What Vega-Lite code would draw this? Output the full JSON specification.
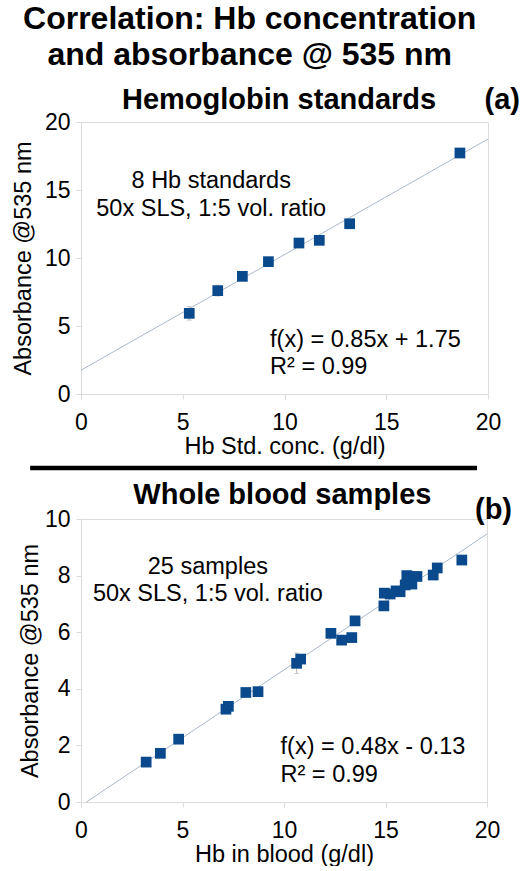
{
  "$schema": "https://vega.github.io/schema/vega-lite/v6.json",
  "background": "white",
  "padding": {"left": 10, "top": 2, "right": 0, "bottom": 0},
  "title": {
    "text": ["Correlation: Hb concentration", "and absorbance @ 535 nm"],
    "fontSize": 32,
    "fontWeight": "bold",
    "lineHeight": 36,
    "anchor": "middle",
    "dx": -16,
    "offset": 14
  },
  "spacing": 9,
  "vconcat": [
    {
      "width": 407,
      "height": 272,
      "title": {
        "text": "Hemoglobin standards\u00a0\u00a0\u00a0\u00a0\u00a0\u00a0(a)",
        "fontSize": 29,
        "fontWeight": "bold",
        "baseline": "alphabetic",
        "anchor": "end",
        "frame": "group",
        "dx": 32,
        "offset": -27
      },
      "data": {
        "values": [
          {"hb": 5.32, "abs": 5.93, "err": 0.5},
          {"hb": 6.72, "abs": 7.6, "err": 0.4},
          {"hb": 7.93, "abs": 8.65, "err": 0.3},
          {"hb": 9.21, "abs": 9.73, "err": 0.25},
          {"hb": 10.71, "abs": 11.1, "err": 0.3},
          {"hb": 11.71, "abs": 11.3, "err": 0.3},
          {"hb": 13.2, "abs": 12.52, "err": 0.25},
          {"hb": 18.62, "abs": 17.72, "err": 0.2}
        ]
      },
      "layer": [
        {
          "data": {"values": [{"hb": 0, "abs": 1.75}, {"hb": 20, "abs": 18.75}]},
          "mark": {"type": "line", "color": "#a9b8cc", "strokeWidth": 1},
          "encoding": {
            "x": {
              "field": "hb",
              "type": "quantitative",
              "title": "Hb Std. conc. (g/dl)",
              "scale": {"domain": [0, 20], "nice": false},
              "axis": {"values": [0, 5, 10, 15, 20], "titlePadding": 0}
            },
            "y": {
              "field": "abs",
              "type": "quantitative",
              "title": "Absorbance @535 nm",
              "scale": {"domain": [0, 20], "nice": false},
              "axis": {"values": [0, 5, 10, 15, 20]}
            }
          }
        },
        {
          "mark": {"type": "errorbar", "ticks": true, "color": "#b8b8b8"},
          "encoding": {
            "x": {"field": "hb", "type": "quantitative", "title": "Hb Std. conc. (g/dl)"},
            "y": {"field": "abs", "type": "quantitative", "title": "Absorbance @535 nm"},
            "yError": {"field": "err"}
          }
        },
        {
          "mark": {"type": "square", "filled": true, "size": 115, "color": "#0a4a8c", "opacity": 1},
          "encoding": {
            "x": {"field": "hb", "type": "quantitative", "title": "Hb Std. conc. (g/dl)"},
            "y": {"field": "abs", "type": "quantitative", "title": "Absorbance @535 nm"}
          }
        },
        {
          "data": {"values": [{}]},
          "mark": {"type": "text", "text": ["8 Hb standards", "50x SLS, 1:5 vol. ratio"], "align": "center", "baseline": "alphabetic", "fontSize": 23.5, "lineHeight": 28, "color": "black"},
          "encoding": {"x": {"datum": 6.4}, "y": {"datum": 15.15}}
        },
        {
          "data": {"values": [{}]},
          "mark": {"type": "text", "text": ["f(x) = 0.85x + 1.75", "R² = 0.99"], "align": "left", "baseline": "alphabetic", "fontSize": 23.5, "lineHeight": 27, "color": "black"},
          "encoding": {"x": {"datum": 9.29}, "y": {"datum": 3.46}}
        },
        {
          "data": {"values": [{}]},
          "mark": {"type": "rule", "color": "black", "strokeWidth": 4.5},
          "encoding": {
            "x": {"datum": -2.5},
            "x2": {"datum": 19.46},
            "y": {"datum": -5.45}
          }
        }
      ]
    },
    {
      "width": 406,
      "height": 283,
      "title": {
        "text": ["Whole blood samples\u00a0\u00a0\u00a0\u00a0\u00a0\u00a0\u00a0\u00a0\u00a0\u00a0\u200b", "(b)"],
        "fontSize": 29,
        "fontWeight": "bold",
        "baseline": "alphabetic",
        "lineHeight": 15,
        "anchor": "end",
        "frame": "group",
        "dx": 25,
        "offset": -40
      },
      "data": {
        "values": [
          {"hb": 3.21, "abs": 1.41, "err": 0.1},
          {"hb": 3.91, "abs": 1.72, "err": 0.1},
          {"hb": 4.81, "abs": 2.22, "err": 0.1},
          {"hb": 7.14, "abs": 3.28, "err": 0.1},
          {"hb": 7.26, "abs": 3.38, "err": 0.1},
          {"hb": 8.12, "abs": 3.87, "err": 0.1},
          {"hb": 8.72, "abs": 3.9, "err": 0.1},
          {"hb": 10.62, "abs": 4.9, "err": 0.36},
          {"hb": 10.82, "abs": 5.05, "err": 0.15},
          {"hb": 12.31, "abs": 5.96, "err": 0.1},
          {"hb": 12.84, "abs": 5.72, "err": 0.1},
          {"hb": 13.34, "abs": 5.81, "err": 0.1},
          {"hb": 13.5, "abs": 6.4, "err": 0.1},
          {"hb": 14.92, "abs": 6.93, "err": 0.1},
          {"hb": 14.94, "abs": 7.38, "err": 0.1},
          {"hb": 15.23, "abs": 7.35, "err": 0.1},
          {"hb": 15.52, "abs": 7.46, "err": 0.1},
          {"hb": 15.72, "abs": 7.43, "err": 0.1},
          {"hb": 15.97, "abs": 7.67, "err": 0.1},
          {"hb": 16.05, "abs": 8.0, "err": 0.1},
          {"hb": 16.3, "abs": 7.7, "err": 0.1},
          {"hb": 16.55, "abs": 7.97, "err": 0.1},
          {"hb": 17.35, "abs": 8.02, "err": 0.1},
          {"hb": 17.55, "abs": 8.27, "err": 0.1},
          {"hb": 18.76, "abs": 8.55, "err": 0.1}
        ]
      },
      "layer": [
        {
          "data": {"values": [{"hb": 0.27, "abs": 0}, {"hb": 20, "abs": 9.47}]},
          "mark": {"type": "line", "color": "#a9b8cc", "strokeWidth": 1},
          "encoding": {
            "x": {
              "field": "hb",
              "type": "quantitative",
              "title": "Hb in blood (g/dl)",
              "scale": {"domain": [0, 20], "nice": false},
              "axis": {"values": [0, 5, 10, 15, 20], "titlePadding": 0}
            },
            "y": {
              "field": "abs",
              "type": "quantitative",
              "title": "Absorbance @535 nm",
              "scale": {"domain": [0, 10], "nice": false},
              "axis": {"values": [0, 2, 4, 6, 8, 10], "titlePadding": 2}
            }
          }
        },
        {
          "mark": {"type": "errorbar", "ticks": true, "color": "#b8b8b8"},
          "encoding": {
            "x": {"field": "hb", "type": "quantitative", "title": "Hb in blood (g/dl)"},
            "y": {"field": "abs", "type": "quantitative", "title": "Absorbance @535 nm"},
            "yError": {"field": "err"}
          }
        },
        {
          "mark": {"type": "square", "filled": true, "size": 115, "color": "#0a4a8c", "opacity": 1},
          "encoding": {
            "x": {"field": "hb", "type": "quantitative", "title": "Hb in blood (g/dl)"},
            "y": {"field": "abs", "type": "quantitative", "title": "Absorbance @535 nm"}
          }
        },
        {
          "data": {"values": [{}]},
          "mark": {"type": "text", "text": ["25 samples", "50x SLS, 1:5 vol. ratio"], "align": "center", "baseline": "alphabetic", "fontSize": 23.5, "lineHeight": 27, "color": "black"},
          "encoding": {"x": {"datum": 6.25}, "y": {"datum": 8.05}}
        },
        {
          "data": {"values": [{}]},
          "mark": {"type": "text", "text": ["f(x) = 0.48x - 0.13", "R² = 0.99"], "align": "left", "baseline": "alphabetic", "fontSize": 23.5, "lineHeight": 28, "color": "black"},
          "encoding": {"x": {"datum": 9.83}, "y": {"datum": 1.69}}
        }
      ]
    }
  ],
  "config": {
    "font": "Liberation Sans",
    "title": {"color": "black", "font": "Liberation Sans"},
    "view": {"stroke": "#dcdcdc"},
    "axis": {
      "grid": false,
      "labelFont": "Liberation Sans",
      "titleFont": "Liberation Sans",
      "labelFontSize": 23,
      "titleFontSize": 23.5,
      "titleFontWeight": "normal",
      "labelColor": "black",
      "titleColor": "black",
      "domainColor": "#dcdcdc",
      "tickColor": "#dcdcdc",
      "tickSize": 5,
      "labelPadding": 12,
      "titlePadding": 3,
      "labelFlush": false
    },
    "axisY": {"labelPadding": 6, "titlePadding": 9}
  }
}
